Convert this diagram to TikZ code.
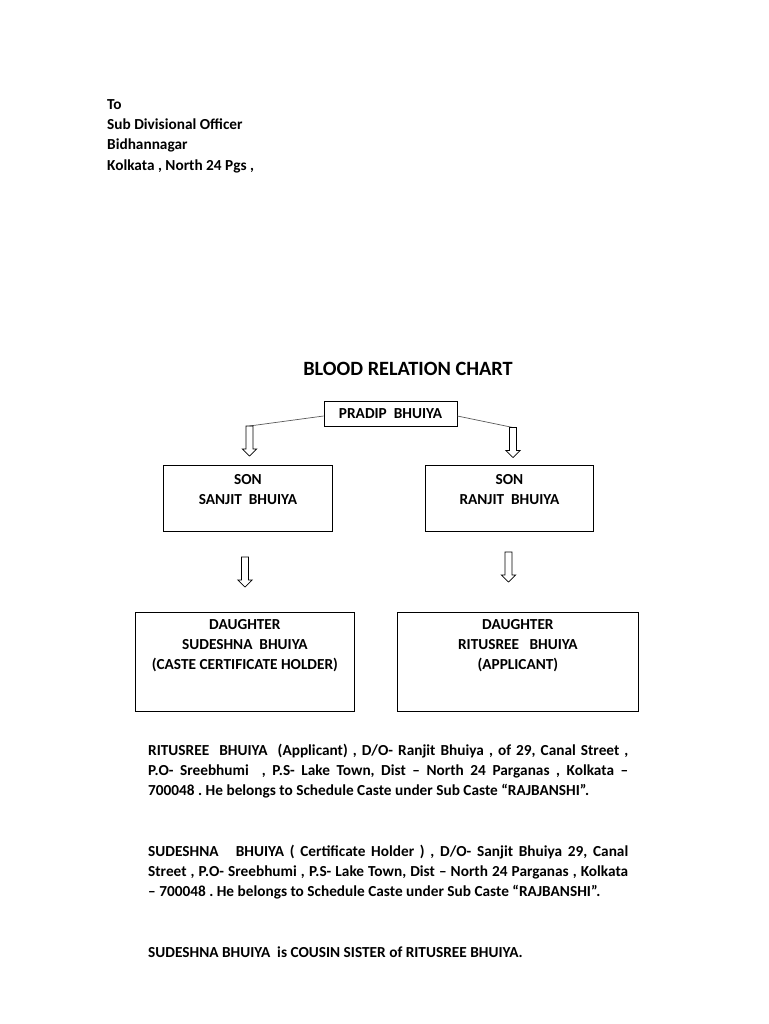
\documentclass[tikz,border=0pt]{standalone}
\usepackage{fontspec}
\setmainfont{Carlito}
\usetikzlibrary{positioning}

\begin{document}
\begin{tikzpicture}[x=1pt, y=-1pt,
        txt/.style={font=\fontsize{15.3}{20.3}\selectfont\bfseries\frenchspacing, inner sep=0pt},
        famBox/.style={draw, line width=0.8pt, inner sep=0pt},
        para/.style={txt, text width=480pt, align=justify, anchor=north west},
        linkLine/.style={draw=black!65, line width=0.7pt},
        hollowdown/.pic={\draw[line width=0.7pt, line join=miter] (-3.5,0) -- (3.5,0) -- (3.5,23) -- (7.2,23) -- (0,30) -- (-7.2,23) -- (-3.5,23) -- cycle;}]
    \useasboundingbox (0,0) rectangle (768,1024);
    % Address
    \node[txt, align=left, anchor=north west] (address) at (107,99) {To\\Sub Divisional Officer\\Bidhannagar\\Kolkata , North 24 Pgs ,};
    % Chart
    \node[txt, font=\fontsize{20.3}{24}\selectfont\bfseries] (title) at (408,369) {BLOOD RELATION CHART};
    \node[txt, famBox, minimum width=133pt, minimum height=25pt] (pradip) at (390.5,413.5) {PRADIP\ \ BHUIYA};
    \node[famBox, minimum width=169pt, minimum height=66pt, anchor=north west] (sanjit) at (163,465) {};
    \node[famBox, minimum width=168pt, minimum height=66pt, anchor=north west] (ranjit) at (425,465) {};
    \node[famBox, minimum width=219pt, minimum height=99pt, anchor=north west] (sudeshna) at (135,612) {};
    \node[famBox, minimum width=241pt, minimum height=99pt, anchor=north west] (ritusree) at (397,612) {};
    \node[txt, align=center, anchor=north] (sanjitText) at ([yshift=-9pt]sanjit.north) {SON\\SANJIT\ \ BHUIYA};
    \node[txt, align=center, anchor=north] (ranjitText) at ([yshift=-9pt]ranjit.north) {SON\\RANJIT\ \ BHUIYA};
    \node[txt, align=center, anchor=north] (sudeshnaText) at ([yshift=-7pt]sudeshna.north) {DAUGHTER\\SUDESHNA\ \ BHUIYA\\(CASTE CERTIFICATE HOLDER)};
    \node[txt, align=center, anchor=north] (ritusreeText) at ([yshift=-7pt]ritusree.north) {DAUGHTER\\RITUSREE\ \ \ BHUIYA\\(APPLICANT)};
    % Arrows
    \coordinate (topL) at (249.5,426);
    \coordinate (topR) at (513,427.5);
    \coordinate (midL) at (245,557);
    \coordinate (midR) at (508.5,552);
    \draw[linkLine] ([yshift=-2.5pt]pradip.west) -- (topL);
    \draw[linkLine] ([yshift=-2.5pt]pradip.east) -- (topR);
    \pic at (topL) {hollowdown};
    \pic at (topR) {hollowdown};
    \pic at (midL) {hollowdown};
    \pic at (midR) {hollowdown};
    % Statements
    \node[para] (ritusreePara) at (148,743.5) {RITUSREE\ \ BHUIYA\ \ (Applicant) , D/O- Ranjit Bhuiya , of 29, Canal Street ,\linebreak P.O- Sreebhumi\ \ , P.S- Lake Town, Dist – North 24 Parganas , Kolkata –\linebreak 700048 . He belongs to Schedule Caste under Sub Caste “RAJBANSHI”.};
    \node[para] (sudeshnaPara) at (148,844.5) {SUDESHNA\ \ \ BHUIYA ( Certificate Holder ) , D/O- Sanjit Bhuiya 29, Canal\linebreak Street , P.O- Sreebhumi , P.S- Lake Town, Dist – North 24 Parganas , Kolkata\linebreak – 700048 . He belongs to Schedule Caste under Sub Caste “RAJBANSHI”.};
    \node[txt, anchor=base west] (cousin) at (148,957) {SUDESHNA BHUIYA\ \ is COUSIN SISTER of RITUSREE BHUIYA.};
\end{tikzpicture}
\end{document}
